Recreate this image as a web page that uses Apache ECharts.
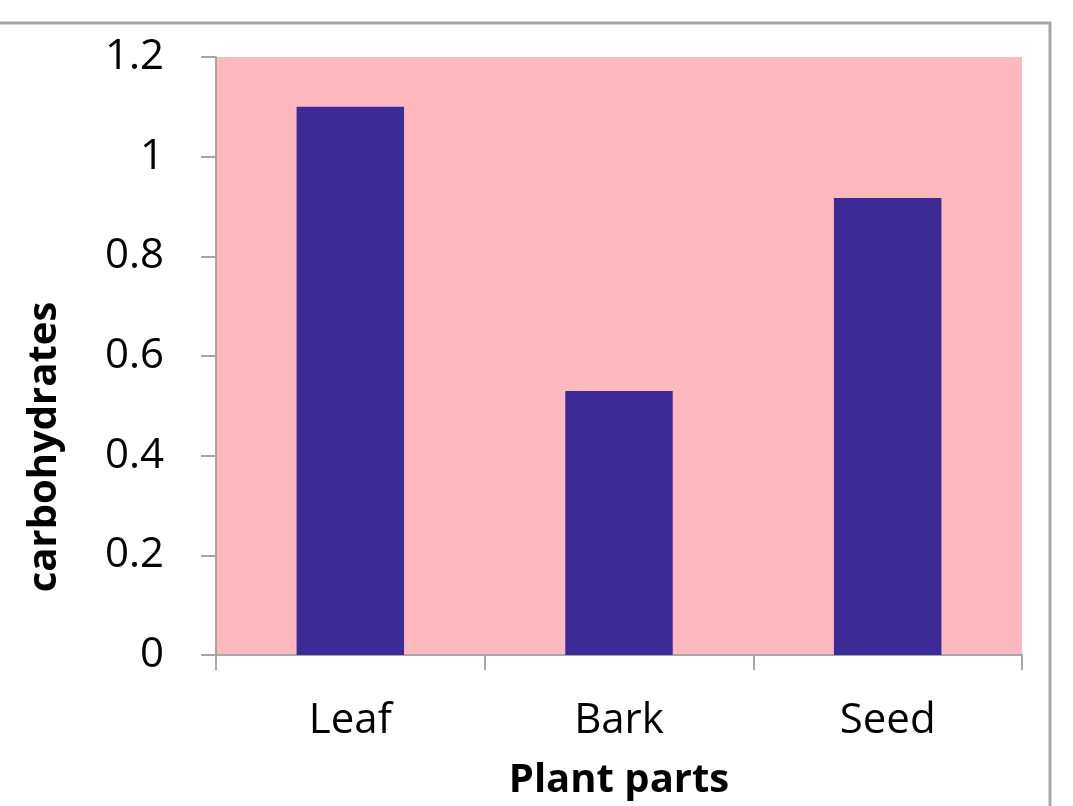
<!DOCTYPE html>
<html lang="en">
<head>
    <meta charset="UTF-8">
    <title>Carbohydrates by plant part</title>
    <script src="https://cdn.jsdelivr.net/npm/echarts@6/dist/echarts.min.js"></script>
    <style>
        html, body { margin: 0; padding: 0; background: #fff; }
        #chart { width: 1073px; height: 806px; }
    </style>
</head>
<body>
    <div id="chart"></div>
    <script>
        // data
        var categories = ['Leaf', 'Bark', 'Seed'];
        var carbValues = [1.1, 0.53, 0.917];
        var yTicks = [0, 0.2, 0.4, 0.6, 0.8, 1, 1.2];

        var chart = echarts.init(document.getElementById('chart'));
        var font = '"Open Sans", "Noto Sans", sans-serif';
        var gray = '#A6A6A6';

        var option = {
            animation: false,
            grid: {
                left: 216, top: 57, right: 51, bottom: 147,
                show: true,
                backgroundColor: '#FFB8BD',
                borderWidth: 0
            },
            xAxis: {
                type: 'category',
                data: categories,
                name: 'Plant parts',
                nameLocation: 'middle',
                nameGap: 106,
                nameTextStyle: { fontFamily: font, fontSize: 40, fontWeight: 'bold', color: '#000' },
                axisLine: { lineStyle: { color: gray, width: 2 } },
                axisTick: { show: true, length: 15, lineStyle: { color: gray, width: 2 } },
                axisLabel: { fontFamily: font, fontSize: 42, color: '#000', margin: 45 }
            },
            yAxis: {
                type: 'value',
                min: 0,
                max: 1.2,
                interval: 0.2,
                axisLine: { show: true, lineStyle: { color: gray, width: 2 } },
                axisTick: { show: true, length: 15, lineStyle: { color: gray, width: 2 } },
                splitLine: { show: false },
                axisLabel: {
                    fontFamily: font, fontSize: 42, color: '#000', margin: 52,
                    formatter: function (v) {
                        // show the ticks as the original does
                        for (var i = 0; i < yTicks.length; i++) {
                            if (Math.abs(yTicks[i] - v) < 1e-9) return String(yTicks[i]);
                        }
                        return '';
                    }
                }
            },
            graphic: [
                {
                    type: 'polyline',
                    shape: { points: [[0, 23], [1050, 23], [1050, 806]] },
                    style: { stroke: gray, lineWidth: 3, fill: null }
                },
                {
                    type: 'text',
                    x: 45, y: 447,
                    rotation: Math.PI / 2,
                    style: {
                        text: 'carbohydrates',
                        font: 'bold 40px ' + font,
                        fill: '#000',
                        align: 'center',
                        verticalAlign: 'middle'
                    }
                }
            ],
            series: [{
                type: 'bar',
                data: carbValues,
                barWidth: '40%',
                itemStyle: { color: '#3C2A97' }
            }]
        };
        chart.setOption(option);
    </script>
</body>
</html>
